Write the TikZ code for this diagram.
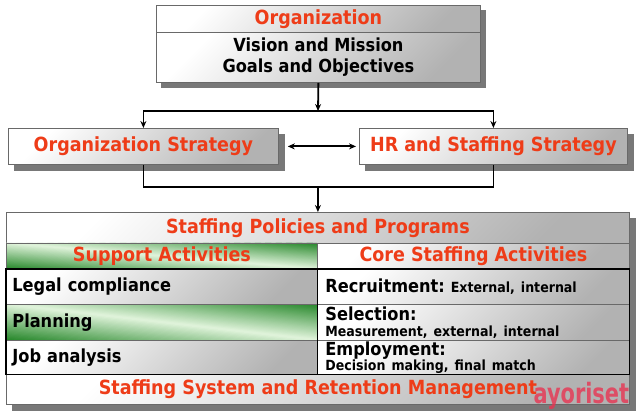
\documentclass[tikz,border=0pt]{standalone}
\usepackage{fontspec}
\usepackage{graphicx}
\setmainfont{DejaVu Sans Condensed Bold}
\usetikzlibrary{backgrounds,arrows.meta}
\definecolor{titlered}{RGB}{238,60,24}
\definecolor{boxline}{RGB}{105,105,105}
\definecolor{shadowgray}{RGB}{120,120,120}
\definecolor{leafgreen}{RGB}{38,135,42}
\definecolor{palegreen}{RGB}{225,244,220}
\definecolor{markpink}{RGB}{232,52,82}
\tikzset{
  gridcell/.style={draw=boxline, line width=0.8pt, inner sep=0pt, anchor=north west},
  panel/.style={gridcell, top color=white, bottom color=black!30, shading angle=45},
  headline/.style={text=titlered, font=\fontsize{19.5}{21}\selectfont},
  bodyline/.style={font=\fontsize{18}{21}\selectfont},
  leftcell/.style={minimum height=#1, text width=299pt, inner xsep=6pt, align=left, bodyline},
  rightcell/.style={panel, minimum height=#1, text width=296pt, inner xsep=8pt, align=left, bodyline},
  boxshadow/.style={fill=shadowgray},
}
\newcommand{\smalltext}[1]{{\fontsize{14}{15}\selectfont #1}}
% diagonal green band, corners (x0,y0) (x1,y1)
\newcommand{\greenband}[4]{%
  \begin{scope}
    \clip (#1,#2) rectangle (#3,#4);
    \foreach \k in {-30,...,29}{
      \pgfmathsetmacro\ua{(#3-#1)*\k/30}
      \pgfmathsetmacro\ub{(#3-#1)*(\k+1.6)/30}
      \pgfmathsetmacro\tint{100*(1-abs(\k+0.5)/30)}
      \fill[palegreen!\tint!leafgreen] (#1+\ua,#2) -- (#1+\ub,#2) -- (#3+\ub,#4) -- (#3+\ua,#4) -- cycle;
    }
  \end{scope}}
\begin{document}
\begin{tikzpicture}[x=1pt, y=-1pt, >={Stealth[length=7pt,width=6pt]}, line width=1.8pt]
  \useasboundingbox (0,0) rectangle (640,414);
  % top box
  \node[panel, minimum width=324pt, minimum height=27pt, headline] (orghead) at (156,5) {Organization};
  \node[panel, minimum width=324pt, minimum height=50pt, bodyline, align=center] (orgbody) at (156,32) {Vision and Mission\\Goals and Objectives};
  % strategies
  \node[panel, minimum width=270pt, minimum height=36pt, headline] (orgstrat) at (8,128) {Organization Strategy};
  \node[panel, minimum width=268pt, minimum height=36pt, headline] (hrstrat) at (359,128) {HR and Staffing Strategy};
  \coordinate (split) at (318,111);
  \coordinate (join) at (318,187);
  \draw[->] (orgbody.south) -- (split);
  \draw[->] (split) -| (orgstrat.north);
  \draw[->] (split) -| (hrstrat.north);
  \draw[<->, shorten <=9pt, shorten >=3pt] (orgstrat.east) -- (hrstrat.west);
  \draw (orgstrat.south) |- (join) -| (hrstrat.south);
  % staffing table
  \node[panel, minimum width=623pt, minimum height=31pt, headline] (policies) at (6,212) {Staffing Policies and Programs};
  \draw[->] (join) -- (policies.north);
  \greenband{6}{243}{317}{269}
  \node[gridcell, minimum width=311pt, minimum height=26pt, headline] (support) at (6,243) {Support Activities};
  \node[panel, minimum width=312pt, minimum height=26pt, headline] (core) at (317,243) {Core Staffing Activities};
  \node[panel, leftcell=35pt] (legal) at (6,269) {Legal compliance};
  \node[rightcell=35pt] (recruit) at (317,269) {Recruitment:\ \smalltext{External, internal}};
  \greenband{6}{304}{317}{340}
  \node[gridcell, leftcell=36pt] (planning) at (6,304) {Planning};
  \node[rightcell=36pt] (select) at (317,304) {Selection:\\[-5pt]\smalltext{Measurement, external, internal}};
  \node[panel, leftcell=34pt] (jobs) at (6,340) {Job analysis};
  \node[rightcell=34pt] (employ) at (317,340) {Employment:\\[-6pt]\smalltext{Decision making, final match}};
  \node[panel, minimum width=623pt, minimum height=30pt, headline] (retention) at (6,374) {Staffing System and Retention Management};
  \draw[line width=1.3pt] (legal.north west) rectangle (employ.south east);
  \draw[line width=1.3pt] (legal.north east) -- (jobs.south east);
  \node[text=markpink, opacity=0.8, inner sep=0pt, anchor=base east, font=\fontsize{28}{28}\selectfont] (mark) at (630,403) {\scalebox{0.83}[1]{ayoriset}};
  % shadows
  \begin{pgfonlayer}{background}
    \fill[boxshadow] ([shift={(5,5)}]orghead.north west) rectangle ([shift={(5,5)}]orgbody.south east);
    \fill[boxshadow] ([shift={(6,6)}]orgstrat.north west) rectangle ([shift={(6,6)}]orgstrat.south east);
    \fill[boxshadow] ([shift={(6,6)}]hrstrat.north west) rectangle ([shift={(6,6)}]hrstrat.south east);
    \fill[boxshadow] ([shift={(6,6)}]policies.north west) rectangle ([shift={(6,6)}]retention.south east);
  \end{pgfonlayer}
\end{tikzpicture}
\end{document}
